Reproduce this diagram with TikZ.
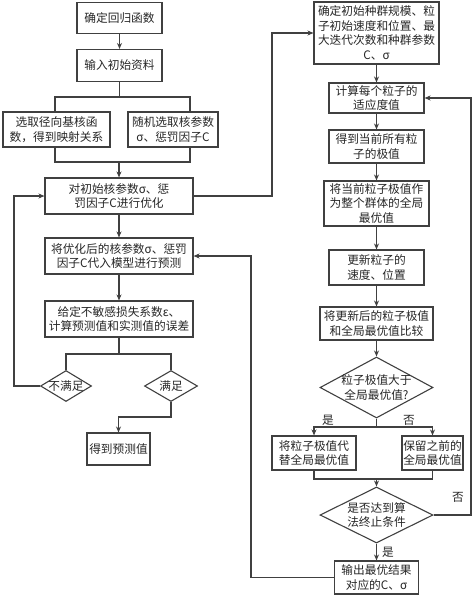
\documentclass[tikz,border=0pt]{standalone}
\usepackage{fontspec}
\setmainfont{Noto Sans CJK SC}
\usetikzlibrary{shapes.geometric,arrows.meta}
\begin{document}
\begin{tikzpicture}[x=1pt,y=-1pt,
  every node/.style={font=\fontsize{11.7}{14.5}\selectfont, text=black!85},
  box/.style={draw=black!75, line width=1.1pt, rectangle, align=center, inner sep=0pt},
  dia/.style={draw=black!75, line width=1.1pt, diamond, inner sep=0pt},
  txt/.style={align=center, inner sep=0pt},
  ln/.style={draw=black!75, line width=1.1pt},
  arr/.style={ln, -{Stealth[length=6pt,width=5pt]}}]
\useasboundingbox (0,0) rectangle (474,597);
% left column
\node[box, minimum width=85pt, minimum height=31pt] (b1) at (119.5,18) {确定回归函数};
\node[box, minimum width=85pt, minimum height=32pt] (b2) at (119.5,65.5) {输入初始资料};
\node[box, minimum width=107pt, minimum height=35pt] (b3) at (56.5,129.5) {选取径向基核函\\数，得到映射关系};
\node[box, minimum width=90pt, minimum height=35pt] (b4) at (173,129.5) {随机选取核参数\\σ、惩罚因子C};
\node[box, minimum width=148pt, minimum height=36pt] (b5) at (119,196) {对初始核参数σ、惩\\罚因子C进行优化};
\node[box, minimum width=148pt, minimum height=36pt] (b6) at (119,256) {将优化后的核参数σ、惩罚\\因子C代入模型进行预测};
\node[box, minimum width=148pt, minimum height=36pt] (b7) at (119,319) {给定不敏感损失系数ε、\\计算预测值和实测值的误差};
\node[dia, minimum width=51pt, minimum height=31pt] (d1) at (66,386) {};
\node[txt] (d1t) at (d1) {不满足};
\node[dia, minimum width=53pt, minimum height=31pt] (d2) at (171,386) {};
\node[txt] (d2t) at (d2) {满足};
\node[box, minimum width=63pt, minimum height=32pt] (b8) at (118.5,449) {得到预测值};
% right column
\node[box, minimum width=125pt, minimum height=62pt] (r1) at (376.5,33) {确定初始种群规模、粒\\子初始速度和位置、最\\大迭代次数和种群参数\\C、σ};
\node[box, minimum width=95pt, minimum height=30pt] (r2) at (376.5,98) {计算每个粒子的\\适应度值};
\node[box, minimum width=95pt, minimum height=33pt] (r3) at (376.5,146.5) {得到当前所有粒\\子的极值};
\node[box, minimum width=105pt, minimum height=45pt] (r4) at (376.5,203.5) {将当前粒子极值作\\为整个群体的全局\\最优值};
\node[box, minimum width=95pt, minimum height=35pt] (r5) at (376.5,267.5) {更新粒子的\\速度、位置};
\node[box, minimum width=113pt, minimum height=33pt] (r6) at (376.5,323.5) {将更新后的粒子极值\\和全局最优值比较};
\node[dia, minimum width=113pt, minimum height=61pt] (rd1) at (376.5,387.5) {};
\node[txt] (rd1t) at (rd1) {粒子极值大于\\全局最优值?};
\node[box, minimum width=84pt, minimum height=34pt] (r7) at (314,453) {将粒子极值代\\替全局最优值};
\node[box, minimum width=61pt, minimum height=34pt] (r8) at (432.5,453) {保留之前的\\全局最优值};
\node[dia, minimum width=113pt, minimum height=56pt] (rd2) at (376.5,515) {};
\node[txt] (rd2t) at (rd2) {是否达到算\\法终止条件};
\node[box, minimum width=84pt, minimum height=33pt] (r9) at (376.5,577.5) {输出最优结果\\对应的C、σ};
% labels
\node[txt] (l1) at (328,420) {是};
\node[txt] (l2) at (409,420) {否};
\node[txt] (l3) at (458,497) {否};
\node[txt] (l4) at (388,552) {是};
% coordinates
\coordinate (s1) at (119.5,97);
\coordinate (s1L) at (55,97);
\coordinate (s1R) at (190,97);
\coordinate (j1) at (119,162);
\coordinate (j1L) at (55,162);
\coordinate (j1R) at (190,162);
\coordinate (s2) at (119,354);
\coordinate (s2L) at (66,354);
\coordinate (s2R) at (171,354);
\coordinate (k1) at (14,386);
\coordinate (k2) at (14,196);
\coordinate (m1) at (171,417);
\coordinate (m2) at (118.5,417);
\coordinate (p1) at (272,196);
\coordinate (p2) at (272,33);
\coordinate (s3) at (376.5,427);
\coordinate (s3L) at (314,427);
\coordinate (s3R) at (432.5,427);
\coordinate (j3) at (376.5,479);
\coordinate (j3L) at (314,479);
\coordinate (j3R) at (432.5,479);
\coordinate (q1) at (471,515);
\coordinate (q2) at (471,98);
\coordinate (t1) at (251,577.5);
\coordinate (t2) at (251,256);
% connectors left
\draw[arr] (b1) -- (b2);
\draw[ln] (b2.south) -- (s1);
\draw[ln] (s1L |- b3.north) -- (s1L) -- (s1R) -- (s1R |- b4.north);
\draw[ln] (j1L |- b3.south) -- (j1L) -- (j1R) -- (j1R |- b4.south);
\draw[arr] (j1) -- (b5.north);
\draw[arr] (b5) -- (b6);
\draw[arr] (b6) -- (b7);
\draw[ln] (b7.south) -- (s2);
\draw[ln] (d1.north) -- (s2L) -- (s2R) -- (d2.north);
\draw[arr] (d1.west) -- (k1) -- (k2) -- (b5.west);
\draw[arr] (d2.south) -- (m1) -- (m2) -- (b8.north);
\draw[arr] (b5.east) -- (p1) -- (p2) -- (r1.west);
% connectors right
\draw[arr] (r1) -- (r2);
\draw[arr] (r2) -- (r3);
\draw[arr] (r3) -- (r4);
\draw[arr] (r4) -- (r5);
\draw[arr] (r5) -- (r6);
\draw[arr] (r6) -- (rd1);
\draw[ln] (rd1.south) -- (s3);
\draw[arr] (s3) -- (s3L) -- (r7.north);
\draw[arr] (s3) -- (s3R) -- (r8.north);
\draw[ln] (r7.south) -- (j3L) -- (j3R) -- (r8.south);
\draw[arr] (j3) -- (rd2.north);
\draw[arr] (rd2.east) -- (q1) -- (q2) -- (r2.east);
\draw[arr] (rd2.south) -- (r9.north);
\draw[arr] (r9.west) -- (t1) -- (t2) -- (b6.east);
\end{tikzpicture}
\end{document}
